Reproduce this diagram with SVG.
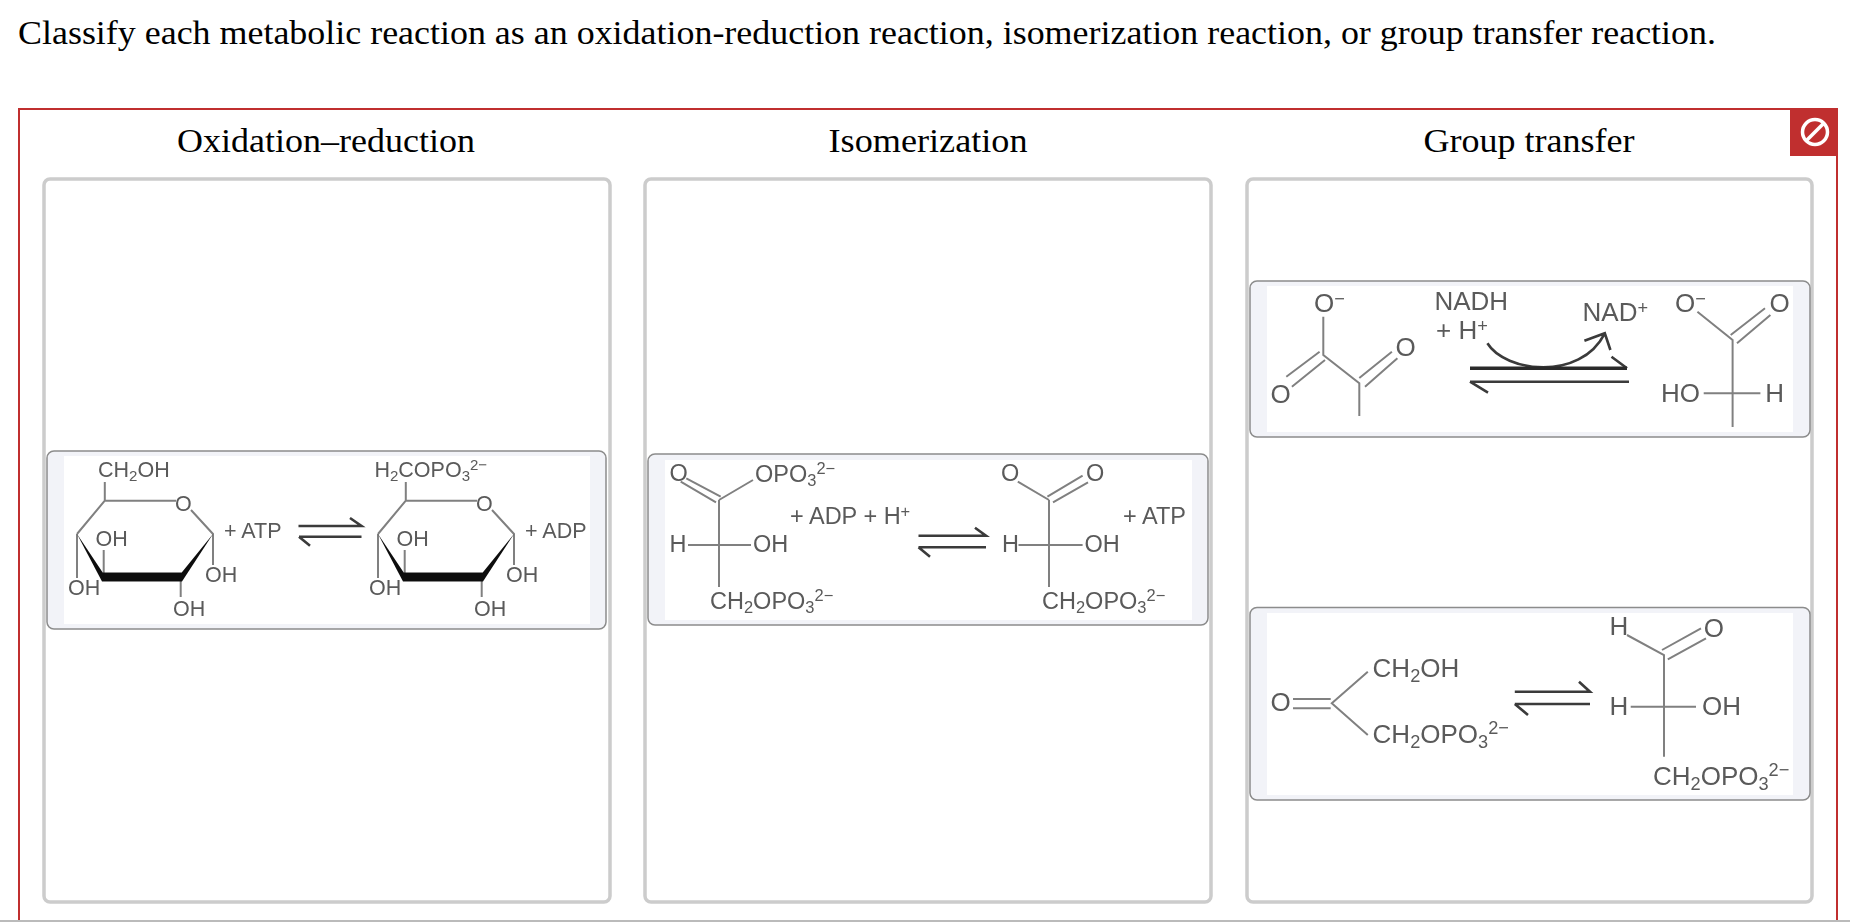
<svg xmlns="http://www.w3.org/2000/svg" width="1850" height="922" viewBox="0 0 1850 922">
<style>
.h{font-family:"Liberation Serif","Times New Roman",serif;fill:#000}
.t{font-family:"Liberation Sans",Arial,sans-serif;font-size:21.5px;fill:#5a5a5a}
.t2{font-size:23.5px}
.t3{font-size:26px}
.s{font-size:.7em}
.b{fill:none;stroke:#808080;stroke-width:2}
.a{fill:none;stroke:#3a3a3a;stroke-width:2.6}
.panel{fill:#fff;stroke:#ccc;stroke-width:3.5}
.card{fill:#f2f3f8;stroke:#8c8c8c;stroke-width:1.5}
.art{fill:#fff}
.soft{filter:url(#blur)}
</style>
<defs>
<filter id="blur" x="-5%" y="-5%" width="110%" height="110%"><feGaussianBlur stdDeviation="0.65"/></filter>
<g id="ring">
<path class="b" d="M104.800 482V500.700H176M191 510L213 534V565M180.700 577V597M103.700 550V577M77 534V578M104.800 500.700L77 534"/>
<polygon fill="#111" points="77,534 102.700,572.500 181.700,572.500 213,534 182,581.500 102,581.500"/>
</g>
</defs>
<rect width="1850" height="922" fill="#fff"/>
<text class="h" x="18" y="44" font-size="33.500" textLength="1698" lengthAdjust="spacingAndGlyphs">Classify each metabolic reaction as an oxidation-reduction reaction, isomerization reaction, or group transfer reaction.</text>
<g id="frame">
<path d="M19 920V109H1837V920" fill="none" stroke="#c02f2f" stroke-width="2"/>
<rect x="1790" y="108" width="48" height="48" fill="#c02f2f"/>
<circle cx="1815" cy="132" r="12.500" fill="none" stroke="#fff" stroke-width="3.500"/>
<path d="M1807 140L1823 124" stroke="#fff" stroke-width="3.500"/>
<rect x="0" y="920" width="1850" height="2" fill="#bbb"/>
</g>
<g id="col-redox">
<text class="h" x="326" y="151.500" font-size="34" text-anchor="middle" textLength="298" lengthAdjust="spacingAndGlyphs">Oxidation–reduction</text>
<rect class="panel" x="44" y="179" width="566" height="723" rx="6"/>
</g>
<g id="col-isom">
<text class="h" x="928" y="151.500" font-size="34" text-anchor="middle" textLength="199" lengthAdjust="spacingAndGlyphs">Isomerization</text>
<rect class="panel" x="645" y="179" width="566" height="723" rx="6"/>
</g>
<g id="col-group">
<text class="h" x="1529" y="151.500" font-size="34" text-anchor="middle" textLength="211" lengthAdjust="spacingAndGlyphs">Group transfer</text>
<rect class="panel" x="1247" y="179" width="565" height="723" rx="6"/>
</g>

<g id="card-glucose">
<rect class="card" x="47" y="451" width="559" height="178" rx="7"/>
<rect class="art" x="64" y="456" width="526" height="168"/>
<g class="soft">
<use href="#ring"/>
<use href="#ring" x="301"/>
<path class="a" d="M298.500 526H361.500L350 518M299 536.700H361.500M299 536.700L310 545.700"/>
<text class="t" x="98" y="477">CH<tspan class="s" dy="4">2</tspan><tspan dy="-4">OH</tspan></text>
<text class="t" x="175" y="511">O</text>
<text class="t" x="95.500" y="546">OH</text>
<text class="t" x="205" y="582">OH</text>
<text class="t" x="68" y="595">OH</text>
<text class="t" x="173" y="616">OH</text>
<text class="t" x="224" y="538">+ ATP</text>
<text class="t" x="374.400" y="477">H<tspan class="s" dy="4">2</tspan><tspan dy="-4">COPO</tspan><tspan class="s" dy="4">3</tspan><tspan class="s" dy="-11">2−</tspan></text>
<text class="t" x="476" y="511">O</text>
<text class="t" x="396.500" y="546">OH</text>
<text class="t" x="506" y="582">OH</text>
<text class="t" x="369" y="595">OH</text>
<text class="t" x="474" y="616">OH</text>
<text class="t" x="525" y="538">+ ADP</text>
</g>
</g>

<g id="card-bisphosphoglycerate">
<rect class="card" x="648" y="454" width="560" height="171" rx="7"/>
<rect class="art" x="665" y="460" width="527" height="160"/>
<g class="soft">
<path class="b" d="M719 500L753 480M716 502.300L680.700 481.700M720.700 496.700L686.300 478.300M719 500V587M688 545H751"/>
<path class="b" d="M1049 500L1017.800 481.700M1047.400 496.700L1082.600 475.700M1053 502.300L1088 482.300M1049 500V587M1018.500 545H1082.600"/>
<path class="a" d="M918.500 535.700H986L975 527.700M918.500 547.300H986M918.500 547.300L930 556.700"/>
<text class="t t2" x="669.600" y="481">O</text>
<text class="t t2" x="755" y="482">OPO<tspan class="s" dy="4">3</tspan><tspan class="s" dy="-12">2−</tspan></text>
<text class="t t2" x="669.600" y="552">H</text>
<text class="t t2" x="753" y="552">OH</text>
<text class="t t2" x="710" y="609">CH<tspan class="s" dy="4">2</tspan><tspan dy="-4">OPO</tspan><tspan class="s" dy="4">3</tspan><tspan class="s" dy="-12">2−</tspan></text>
<text class="t t2" x="790" y="524">+ ADP + H<tspan class="s" dy="-7">+</tspan></text>
<text class="t t2" x="1001" y="481">O</text>
<text class="t t2" x="1086" y="481">O</text>
<text class="t t2" x="1002" y="552">H</text>
<text class="t t2" x="1084.400" y="552">OH</text>
<text class="t t2" x="1042" y="609">CH<tspan class="s" dy="4">2</tspan><tspan dy="-4">OPO</tspan><tspan class="s" dy="4">3</tspan><tspan class="s" dy="-12">2−</tspan></text>
<text class="t t2" x="1123" y="524">+ ATP</text>
</g>
</g>

<g id="card-pyruvate">
<rect class="card" x="1250" y="281" width="560" height="156" rx="7"/>
<rect class="art" x="1267" y="286" width="526" height="146"/>
<g class="soft">
<path class="b" d="M1323.300 316.700V355L1359.300 383.300V416M1319.600 351.700L1286.300 376.700M1325 360L1291.900 386.700M1359.300 378L1391.900 351.700M1365 386.700L1397.400 358.300"/>
<path class="b" d="M1697.400 311.700L1732.600 340V427M1730.700 335L1765 308.300M1737 343.300L1770.400 315M1703.700 393.300H1760.400"/>
<path class="a" d="M1487.400 343.300C1505 372 1580 382 1604.800 333.300M1584.400 340.700L1604.800 333.300L1610.400 350M1611.500 356.700L1627 368.300M1470 381.700H1629M1470 381.700L1488 392.700"/>
<path d="M1470 368.300H1627" fill="none" stroke="#2a2a2a" stroke-width="3.500"/>
<text class="t t3" x="1314" y="312">O<tspan class="s" dy="-7">−</tspan></text>
<text class="t t3" x="1270.400" y="403">O</text>
<text class="t t3" x="1395.600" y="356">O</text>
<text class="t t3" x="1434.400" y="310">NADH</text>
<text class="t t3" x="1436" y="339">+ H<tspan class="s" dy="-7">+</tspan></text>
<text class="t t3" x="1582.600" y="321">NAD<tspan class="s" dy="-7">+</tspan></text>
<text class="t t3" x="1675" y="312">O<tspan class="s" dy="-7">−</tspan></text>
<text class="t t3" x="1769.600" y="312">O</text>
<text class="t t3" x="1661" y="402">HO</text>
<text class="t t3" x="1765.200" y="402">H</text>
</g>
</g>

<g id="card-dhap">
<rect class="card" x="1250" y="607.500" width="560" height="192.500" rx="7"/>
<rect class="art" x="1267" y="613" width="526" height="182"/>
<g class="soft">
<path class="b" d="M1293 699H1330.700M1293 708.300H1330.700M1367.800 671.700L1331.800 703.300L1367.800 735"/>
<path class="b" d="M1627 635L1664 655V756.700M1662 650L1701 628.300M1667.800 659.300L1706 638.300M1630.700 706.700H1696"/>
<path class="a" d="M1514.800 691.700H1590L1579 681.700M1514.800 704H1590M1514.800 704L1528 715"/>
<text class="t t3" x="1270.400" y="711">O</text>
<text class="t t3" x="1372.600" y="677">CH<tspan class="s" dy="5">2</tspan><tspan dy="-5">OH</tspan></text>
<text class="t t3" x="1372.600" y="743">CH<tspan class="s" dy="5">2</tspan><tspan dy="-5">OPO</tspan><tspan class="s" dy="5">3</tspan><tspan class="s" dy="-14">2−</tspan></text>
<text class="t t3" x="1609.600" y="635">H</text>
<text class="t t3" x="1703.700" y="637">O</text>
<text class="t t3" x="1609.600" y="715">H</text>
<text class="t t3" x="1702" y="715">OH</text>
<text class="t t3" x="1653" y="785">CH<tspan class="s" dy="5">2</tspan><tspan dy="-5">OPO</tspan><tspan class="s" dy="5">3</tspan><tspan class="s" dy="-14">2−</tspan></text>
</g>
</g>
</svg>
